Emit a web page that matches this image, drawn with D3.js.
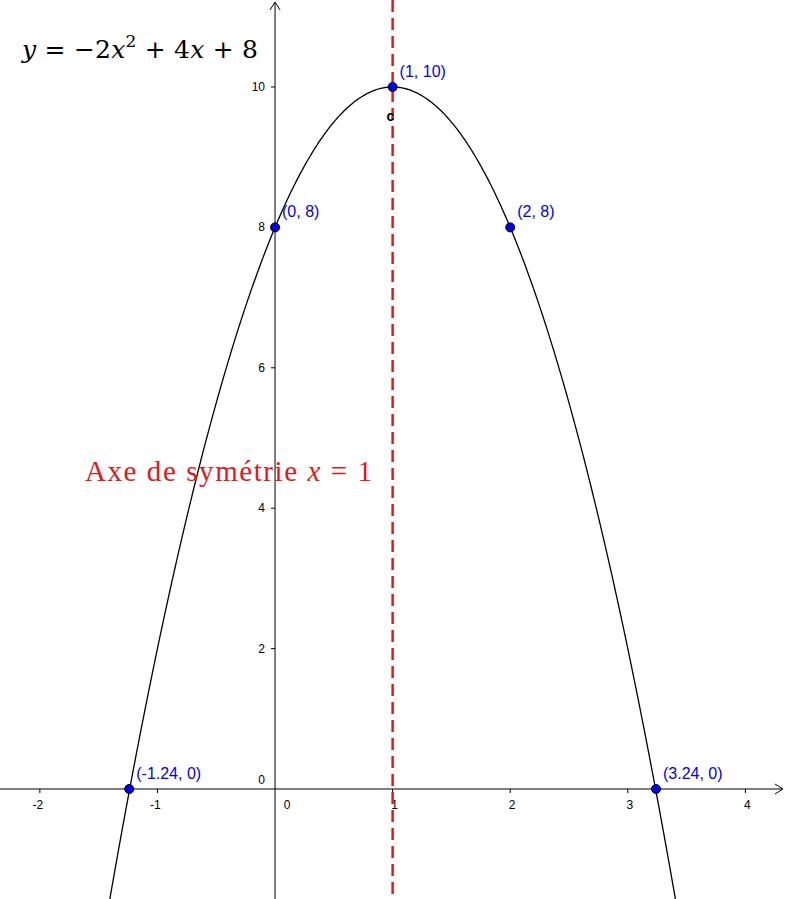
<!DOCTYPE html>
<html><head><meta charset="utf-8">
<script src="https://cdn.jsdelivr.net/npm/d3@7"></script>
<style>body{margin:0;background:#fff}svg{display:block}</style>
</head><body><svg id="c" width="785" height="899"></svg>
<script>
const coeffs=[-2,4,8];
const xTicks=[-2,-1,0,1,2,3,4];
const yTicks=[0,2,4,6,8,10];
const ptX=[1,0,2,-1.24,3.24];
const ptY=[10,8,8,0,0];
const ptLabels=["(1, 10)","(0, 8)","(2, 8)","(-1.24, 0)","(3.24, 0)"];
const axisX=[1];

const W=785,H=899;
const x=d3.scaleLinear().domain([-2.339,4.337]).range([0,W]);
const y=d3.scaleLinear().domain([-1.567,11.239]).range([H,0]);
const svg=d3.select("#c");
const f=t=>coeffs[0]*t*t+coeffs[1]*t+coeffs[2];

const x0=x(0),y0=y(0);
svg.append("line").attr("x1",0).attr("x2",W-3).attr("y1",y0).attr("y2",y0).attr("stroke","#000");
svg.append("line").attr("x1",x0).attr("x2",x0).attr("y1",H).attr("y2",2).attr("stroke","#000");
svg.append("path").attr("d",`M${W-10},${y0-5}L${W-2},${y0}L${W-10},${y0+5}`).attr("fill","none").attr("stroke","#000");
svg.append("path").attr("d",`M${x0-5},10L${x0},2L${x0+5},10`).attr("fill","none").attr("stroke","#000");
xTicks.forEach(t=>{
  if(t!==0) svg.append("line").attr("x1",x(t)).attr("x2",x(t)).attr("y1",y0).attr("y2",y0+4).attr("stroke","#000");
  svg.append("text").attr("x",t===0?x(t)+12:x(t)+(t<0?-2:2)).attr("y",y0+20).attr("text-anchor","middle")
    .attr("font-family","Liberation Sans, Arial").attr("font-size",12).text(t);
});
yTicks.forEach(t=>{
  if(t!==0) svg.append("line").attr("x1",x0-4).attr("x2",x0).attr("y1",y(t)).attr("y2",y(t)).attr("stroke","#000");
  svg.append("text").attr("x",x0-10).attr("y",t===0?y(t)-5:y(t)+4).attr("text-anchor","end")
    .attr("font-family","Liberation Sans, Arial").attr("font-size",12).text(t);
});

axisX.forEach(a=>svg.append("line").attr("x1",x(a)).attr("x2",x(a)).attr("y1",0).attr("y2",H)
  .attr("stroke","#e8161b").attr("stroke-width",2.5).attr("stroke-dasharray","12,6"));

const xs=d3.range(-1.45,3.451,0.01);
svg.append("path").datum(xs).attr("fill","none").attr("stroke","#000").attr("stroke-width",1.3)
  .attr("d",d3.line().x(d=>x(d)).y(d=>y(f(d))));

ptX.forEach((px,i)=>{
  svg.append("circle").attr("cx",x(px)).attr("cy",y(ptY[i])).attr("r",4.5).attr("fill","#0000ee").attr("stroke","#000").attr("stroke-width",1);
  svg.append("text").attr("x",x(px)+7).attr("y",y(ptY[i])-10).attr("fill","#0000ee")
    .attr("font-family","Liberation Sans, Arial").attr("font-size",16).text(ptLabels[i]);
});
svg.append("text").attr("x",x(1)-6).attr("y",y(10)+34).attr("font-family","Liberation Sans, Arial").attr("font-size",14).attr("font-weight","bold").text("c");

const eq=svg.append("text").attr("x",22).attr("y",58).attr("font-family","DejaVu Serif, Liberation Serif, serif").attr("font-size",25)
  .attr("textLength",236).attr("lengthAdjust","spacing");
eq.append("tspan").attr("font-style","italic").text("y");
eq.append("tspan").text(" = −2");
eq.append("tspan").attr("font-style","italic").text("x");
eq.append("tspan").attr("font-size",17).attr("dy",-11).text("2");
eq.append("tspan").attr("dy",11).text(" + 4");
eq.append("tspan").attr("font-style","italic").text("x");
eq.append("tspan").text(" + 8");

const ax=svg.append("text").attr("x",85).attr("y",481).attr("fill","#e8161b").attr("font-family","Liberation Serif, DejaVu Serif, serif").attr("font-size",29)
  .attr("textLength",287).attr("lengthAdjust","spacing");
ax.append("tspan").text("Axe de symétrie ");
ax.append("tspan").attr("font-style","italic").text("x");
ax.append("tspan").text(" = 1");
</script></body></html>
